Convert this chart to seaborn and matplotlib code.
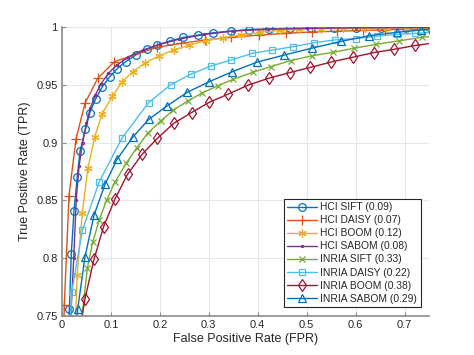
import matplotlib
matplotlib.use("Agg")
import matplotlib.pyplot as plt
import seaborn as sns

# ROC curves (FPR, TPR) for each descriptor
hci_sift_fpr = [0.011, 0.015, 0.019, 0.0245, 0.031, 0.037, 0.048, 0.057, 0.069, 0.082, 0.0975, 0.113,
                0.130, 0.151, 0.173, 0.195, 0.221, 0.248, 0.278, 0.309, 0.346, 0.382, 0.423, 0.465,
                0.508, 0.555, 0.601, 0.652, 0.703, 0.75]
hci_sift_tpr = [0.70, 0.756, 0.804, 0.841, 0.870, 0.893, 0.9115, 0.926, 0.938, 0.948, 0.957, 0.964,
                0.970, 0.9758, 0.9807, 0.9844, 0.988, 0.991, 0.993, 0.995, 0.9965, 0.9978, 0.9984, 0.9988,
                0.999, 0.9992, 0.9993, 0.9994, 0.9995, 0.9996]

hci_daisy_fpr = [0.002, 0.0047, 0.0143, 0.0286, 0.047, 0.073, 0.107, 0.195, 0.243, 0.293, 0.345, 0.403,
                 0.457, 0.51, 0.562, 0.615, 0.66, 0.705, 0.75]
hci_daisy_tpr = [0.70, 0.7595, 0.854, 0.903, 0.934, 0.9556, 0.970, 0.9825, 0.9858, 0.9888, 0.991, 0.993,
                 0.9945, 0.9957, 0.9963, 0.997, 0.9976, 0.998, 0.9983]

hci_boom_fpr = [0.024, 0.031, 0.0415, 0.053, 0.067, 0.082, 0.103, 0.123, 0.1445, 0.170, 0.198, 0.228,
                0.26, 0.294, 0.33, 0.366, 0.405, 0.445, 0.485, 0.53, 0.575, 0.62, 0.665, 0.705, 0.745]
hci_boom_tpr = [0.70, 0.7855, 0.8394, 0.878, 0.905, 0.925, 0.940, 0.9527, 0.9613, 0.969, 0.975, 0.980,
                0.9844, 0.988, 0.9908, 0.993, 0.9954, 0.997, 0.998, 0.9985, 0.9988, 0.999, 0.9992, 0.9993, 0.9994]

hci_sabom_fpr = [0.014, 0.018, 0.024, 0.029, 0.035, 0.042, 0.050, 0.058, 0.068, 0.080, 0.095, 0.112,
                 0.135, 0.165, 0.20, 0.24, 0.29, 0.35, 0.42, 0.50, 0.60, 0.75]
hci_sabom_tpr = [0.70, 0.75, 0.80, 0.85, 0.88, 0.90, 0.917, 0.93, 0.941, 0.951, 0.960, 0.967,
                 0.974, 0.980, 0.985, 0.9895, 0.9935, 0.9965, 0.998, 0.9988, 0.9993, 0.9996]

inria_sift_fpr = [0.028, 0.0518, 0.0627, 0.076, 0.091, 0.108, 0.131, 0.153, 0.175, 0.2025, 0.2276, 0.257,
                  0.287, 0.318, 0.35, 0.39, 0.4267, 0.468, 0.51, 0.553, 0.597, 0.642, 0.688, 0.7355, 0.78]
inria_sift_tpr = [0.70, 0.7913, 0.8137, 0.833, 0.850, 0.8656, 0.882, 0.8956, 0.908, 0.919, 0.928, 0.936,
                  0.943, 0.949, 0.9548, 0.9608, 0.9657, 0.971, 0.975, 0.978, 0.9816, 0.985, 0.988, 0.991, 0.993]

inria_daisy_fpr = [0.012, 0.020, 0.0415, 0.076, 0.1227, 0.177, 0.222, 0.264, 0.305, 0.346, 0.389, 0.4294,
                   0.473, 0.515, 0.558, 0.60, 0.643, 0.684, 0.722, 0.76]
inria_daisy_tpr = [0.70, 0.771, 0.824, 0.866, 0.904, 0.9345, 0.950, 0.9593, 0.9663, 0.9715, 0.9772, 0.980,
                   0.983, 0.9864, 0.9888, 0.990, 0.992, 0.9937, 0.9945, 0.9955]

inria_boom_fpr = [0.022, 0.047, 0.0654, 0.085, 0.108, 0.134, 0.164, 0.195, 0.2284, 0.265, 0.301, 0.34,
                  0.381, 0.422, 0.465, 0.507, 0.55, 0.594, 0.6366, 0.679, 0.722, 0.765]
inria_boom_tpr = [0.70, 0.765, 0.799, 0.8273, 0.851, 0.8726, 0.890, 0.9037, 0.9167, 0.926, 0.9349, 0.942,
                  0.9498, 0.9556, 0.9605, 0.965, 0.9697, 0.9738, 0.9778, 0.9807, 0.984, 0.9865]

inria_sabom_fpr = [0.022, 0.032, 0.047, 0.0654, 0.088, 0.1125, 0.1445, 0.177, 0.2147, 0.256, 0.301, 0.348,
                   0.398, 0.4546, 0.51, 0.5706, 0.628, 0.684, 0.733, 0.78]
inria_sabom_tpr = [0.70, 0.7558, 0.8013, 0.837, 0.864, 0.8855, 0.9046, 0.920, 0.9317, 0.9435, 0.9527, 0.9613,
                   0.9695, 0.9758, 0.9816, 0.9876, 0.9925, 0.9954, 0.9974, 0.999]

labels = ["HCI SIFT (0.09)", "HCI DAISY (0.07)", "HCI BOOM (0.12)", "HCI SABOM (0.08)",
          "INRIA SIFT (0.33)", "INRIA DAISY (0.22)", "INRIA BOOM (0.38)", "INRIA SABOM (0.29)"]

x_ticks = [0, 0.1, 0.2, 0.3, 0.4, 0.5, 0.6, 0.7]
y_ticks = [0.75, 0.8, 0.85, 0.9, 0.95, 1.0]
y_ticklabels = ["0.75", "0.8", "0.85", "0.9", "0.95", "1"]
x_ticklabels = ["0", "0.1", "0.2", "0.3", "0.4", "0.5", "0.6", "0.7"]

sns.set_theme(style="whitegrid")
plt.rcParams["font.family"] = ["Liberation Sans", "DejaVu Sans"]
text_col = "#262626"

series = [
    (hci_sift_fpr, hci_sift_tpr, "#0072BD", "o", 5.5),
    (hci_daisy_fpr, hci_daisy_tpr, "#D95319", "+", 6.5),
    (hci_boom_fpr, hci_boom_tpr, "#EDB120", (6, 2, 0), 6),
    (hci_sabom_fpr, hci_sabom_tpr, "#7E2F8E", ".", 3),
    (inria_sift_fpr, inria_sift_tpr, "#77AC30", "x", 4.5),
    (inria_daisy_fpr, inria_daisy_tpr, "#4DBEEE", "s", 5),
    (inria_boom_fpr, inria_boom_tpr, "#A2142F", "d", 6),
    (inria_sabom_fpr, inria_sabom_tpr, "#0072BD", "^", 6),
]

fig = plt.figure(figsize=(4.74, 3.55), dpi=100)
ax = fig.add_axes([0.1308, 0.110, 0.7743, 0.814])

for (fx, fy, col, mk, ms), lab in zip(series, labels):
    sns.lineplot(x=fx, y=fy, sort=False, estimator=None, ax=ax, color=col, linewidth=1.0,
                 marker=mk, markersize=ms, markerfacecolor="none", markeredgecolor=col,
                 markeredgewidth=0.9, label=lab)

ax.set_xlim(0, 0.75)
ax.set_ylim(0.75, 1.0)
ax.set_xticks(x_ticks)
ax.set_xticklabels(x_ticklabels)
ax.set_yticks(y_ticks)
ax.set_yticklabels(y_ticklabels)
ax.grid(True, color="#e6e6e6", linewidth=0.8)
ax.set_facecolor("white")

for side in ["top", "right"]:
    ax.spines[side].set_visible(False)
for side in ["left", "bottom"]:
    ax.spines[side].set_color("#8c8c8c")
    ax.spines[side].set_linewidth(1.2)

ax.tick_params(axis="both", direction="in", length=3, width=0.8, color="#8c8c8c",
               labelsize=8, labelcolor=text_col, pad=3,
               bottom=True, left=True, top=False, right=False)

ax.set_xlabel("False Positive Rate (FPR)", fontsize=9, color=text_col, labelpad=2)
ax.set_ylabel("True Positive Rate (TPR)", fontsize=9, color=text_col, labelpad=4)

leg = ax.legend(loc="lower right", bbox_to_anchor=(0.977, 0.03), fontsize=7.4,
                frameon=True, fancybox=False, framealpha=1, edgecolor="#262626",
                handlelength=2.9, labelspacing=0.3, borderpad=0.35, handletextpad=0.3,
                borderaxespad=0)
leg.get_frame().set_linewidth(0.8)
for t in leg.get_texts():
    t.set_color(text_col)

fig.savefig("out.png", dpi=100)
